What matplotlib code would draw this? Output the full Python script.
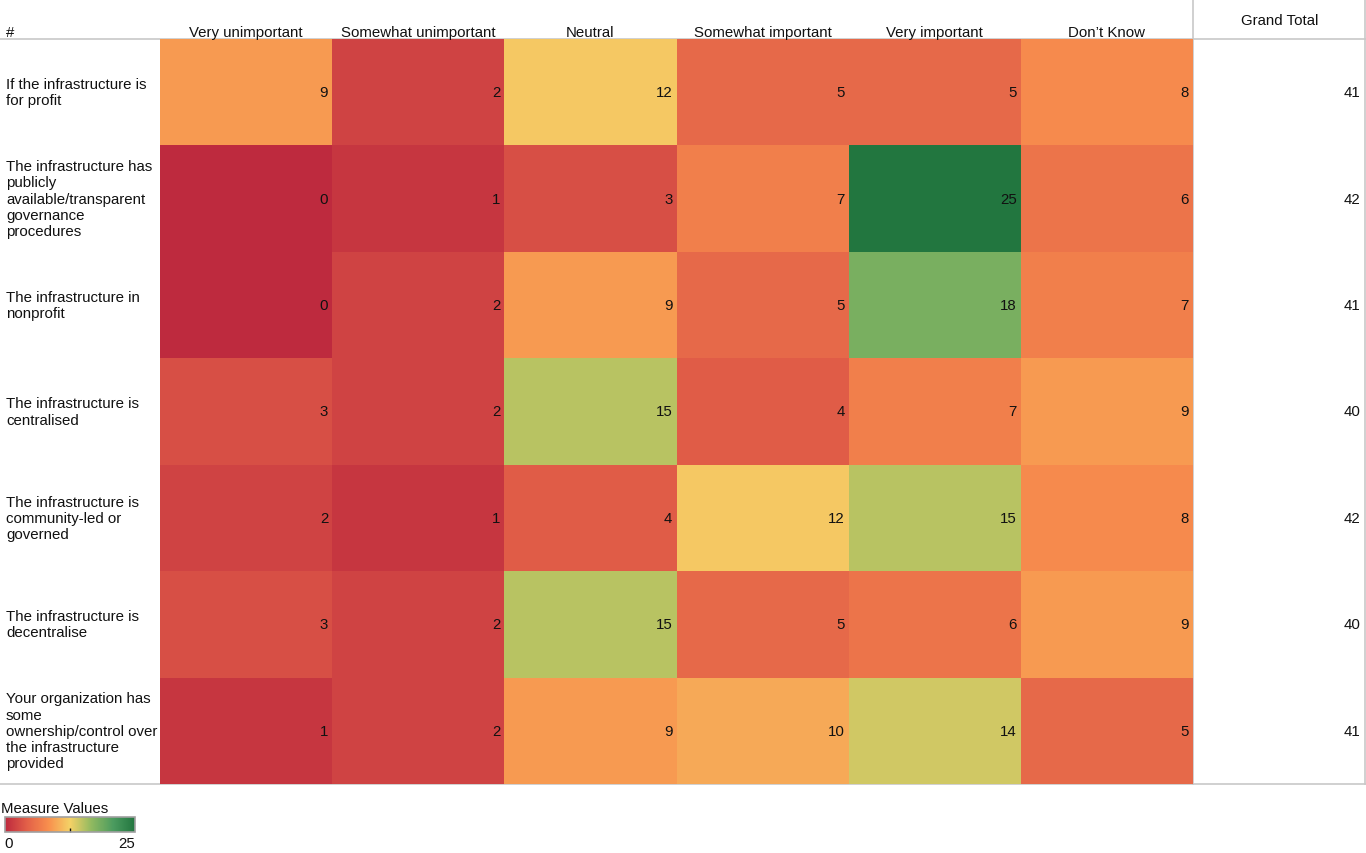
import numpy as np
import matplotlib
matplotlib.use("Agg")
import matplotlib.pyplot as plt
from matplotlib.colors import LinearSegmentedColormap
from matplotlib import transforms
from matplotlib.lines import Line2D

plt.rcParams['font.family'] = ['Liberation Sans', 'DejaVu Sans']

columns = ["Very unimportant", "Somewhat unimportant", "Neutral",
           "Somewhat important", "Very important", "Don\u2019t Know"]
rows = [
    "If the infrastructure is\nfor profit",
    "The infrastructure has\npublicly\navailable/transparent\ngovernance\nprocedures",
    "The infrastructure in\nnonprofit",
    "The infrastructure is\ncentralised",
    "The infrastructure is\ncommunity-led or\ngoverned",
    "The infrastructure is\ndecentralise",
    "Your organization has\nsome\nownership/control over\nthe infrastructure\nprovided",
]
very_unimportant = [9, 0, 0, 3, 2, 3, 1]
somewhat_unimportant = [2, 1, 2, 2, 1, 2, 2]
neutral = [12, 3, 9, 15, 4, 15, 9]
somewhat_important = [5, 7, 5, 4, 12, 5, 10]
very_important = [5, 25, 18, 7, 15, 6, 14]
dont_know = [8, 6, 7, 9, 8, 9, 5]
grand_total = [41, 42, 41, 40, 42, 40, 41]

values = np.array([very_unimportant, somewhat_unimportant, neutral,
                   somewhat_important, very_important, dont_know]).T

palette = ["#be2a3e", "#e25f48", "#f88f4d", "#f4d166", "#90b960", "#4b9b5f", "#22763f"]
cmap = LinearSegmentedColormap.from_list("rgg", palette)

W, H = 1366, 854
fig = plt.figure(figsize=(W / 100, H / 100), dpi=100)

def fx(px):
    return px / W

def fy(py):
    return 1 - py / H

left, right, top, bottom = 160, 1193, 40, 785
ax = fig.add_axes([fx(left), fy(bottom), fx(right - left), (bottom - top) / H])
nr, nc = values.shape
mesh = ax.pcolormesh(np.arange(nc + 1), np.arange(nr + 1), values,
                     cmap=cmap, vmin=0, vmax=25)
ax.set_xlim(0, nc)
ax.set_ylim(nr, 0)
ax.axis("off")

fs = 10.8
tc = "#111111"
for i in range(nr):
    for j in range(nc):
        t = transforms.offset_copy(ax.transData, fig=fig, x=-4, y=0, units="dots")
        ax.text(j + 1, i + 0.5, str(values[i, j]), transform=t,
                ha="right", va="center", fontsize=fs, color=tc)

# row labels and totals
blend = transforms.blended_transform_factory(fig.transFigure, ax.transData)
for i, lab in enumerate(rows):
    ax.text(fx(6), i + 0.5, lab, transform=blend, ha="left", va="center",
            fontsize=fs, color=tc, linespacing=1.2, clip_on=False)
    ax.text(fx(1360), i + 0.5, str(grand_total[i]), transform=blend,
            ha="right", va="center", fontsize=fs, color=tc, clip_on=False)

# column headers
blendx = transforms.blended_transform_factory(ax.transData, fig.transFigure)
for j, c in enumerate(columns):
    ax.text(j + 0.5, fy(37), c, transform=blendx, ha="center", va="baseline",
            fontsize=fs, color=tc, clip_on=False)
fig.text(fx(6), fy(37), "#", ha="left", va="baseline", fontsize=fs, color=tc)
fig.text(fx(1280), fy(25), "Grand Total", ha="center", va="baseline",
         fontsize=fs, color=tc)

# grid lines (behind the cells)
lc = "#c8c8c8"
for (x0, x1, y0, y1) in [(0, W, top, top), (0, W, bottom, bottom),
                         (right, right, 0, bottom), (W - 1, W - 1, 0, bottom)]:
    fig.add_artist(Line2D([fx(x0), fx(x1)], [fy(y0), fy(y1)], color=lc, lw=1.2,
                          transform=fig.transFigure, zorder=-1))

# legend
fig.text(fx(1), fy(813), "Measure Values", ha="left", va="baseline",
         fontsize=fs, color=tc)
cax = fig.add_axes([fx(5), fy(833), fx(130), 15 / H])
cb = fig.colorbar(mesh, cax=cax, orientation="horizontal", ticks=[12.5])
cb.ax.tick_params(direction="in", length=3, width=1, labelbottom=False, color="#111111")
cb.outline.set_edgecolor("#a0a0a0")
cb.outline.set_linewidth(1.2)
fig.text(fx(4), fy(848), "0", ha="left", va="baseline", fontsize=fs, color=tc)
fig.text(fx(135), fy(848), "25", ha="right", va="baseline", fontsize=fs, color=tc)

fig.savefig("out.png", dpi=100)
